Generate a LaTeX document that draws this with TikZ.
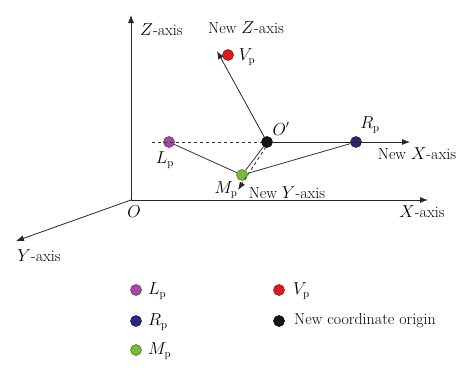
\documentclass[tikz,border=0pt]{standalone}
\usetikzlibrary{arrows.meta}
\definecolor{cL}{RGB}{170,70,170}
\definecolor{cR}{RGB}{40,40,130}
\definecolor{cM}{RGB}{120,185,60}
\definecolor{cV}{RGB}{215,30,30}
\definecolor{cO}{RGB}{20,20,20}
\begin{document}
\begin{tikzpicture}[x=1pt,y=-1pt,
  lbl/.style={font=\fontsize{16}{18}\selectfont, inner sep=0pt},
  axis/.style={-{Latex[length=8pt,width=6pt]}, line width=0.8pt, black!85},
  conn/.style={line width=0.8pt, black!80},
  dot/.style={circle, minimum size=11pt, inner sep=0pt, line width=0.6pt}]
\useasboundingbox (0,0) rectangle (474,372);
% main axes
\coordinate (O) at (131,200);
\coordinate (Zend) at (131,15);
\coordinate (Xend) at (428,200);
\coordinate (Yend) at (16,241);
\draw[axis] (O) -- (Zend);
\draw[axis] (O) -- (Xend);
\draw[axis] (O) -- (Yend);
\node[lbl, anchor=west] (zl) at (140,30) {$Z$-axis};
\node[lbl] (ol) at (134,212) {$O$};
\node[lbl] (xl) at (422,212) {$X$-axis};
\node[lbl] (yl) at (39,256) {$Y$-axis};
% points
\node[dot, draw=cO!70!black, fill=cO] (Op) at (267,142) {};
\node[dot, draw=cR!70!black, fill=cR] (R) at (356,142) {};
\node[dot, draw=cL!70!black, fill=cL] (L) at (169,142) {};
\node[dot, draw=cM!70!black, fill=cM] (M) at (242,175) {};
\node[dot, draw=cV!70!black, fill=cV] (V) at (228,55) {};
\coordinate (dstart) at (152,142);
\coordinate (NX) at (410,142);
\coordinate (NZ) at (217,51);
\coordinate (NY) at (238,190);
% connectors
\draw[conn, dashed] (dstart) -- (Op);
\draw[conn] (L) -- (M);
\draw[conn] (M) -- (R);
\draw[conn] (Op) -- (M);
\draw[axis, dashed] ([xshift=2pt]Op.center) -- (NY);
\draw[axis] (Op) -- (NX);
\draw[axis] (Op) -- (NZ);
% labels
\node[lbl] (opl) at (281,129) {$O'$};
\node[lbl] (rl) at (370,125) {$R_\mathrm{p}$};
\node[lbl] (ll) at (165,160) {$L_\mathrm{p}$};
\node[lbl] (ml) at (226,190) {$M_\mathrm{p}$};
\node[lbl] (vl) at (247,57) {$V_\mathrm{p}$};
\node[lbl] (nzl) at (246,28) {New $Z$-axis};
\node[lbl] (nxl) at (417,154) {New $X$-axis};
\node[lbl] (nyl) at (287,193) {New $Y$-axis};
% legend
\node[dot, draw=cL!70!black, fill=cL] (k1) at (136,290) {};
\node[lbl, anchor=west] (k1l) at (148,291) {$L_\mathrm{p}$};
\node[dot, draw=cR!70!black, fill=cR] (k2) at (136,321) {};
\node[lbl, anchor=west] (k2l) at (148,322) {$R_\mathrm{p}$};
\node[dot, draw=cM!70!black, fill=cM] (k3) at (136,350) {};
\node[lbl, anchor=west] (k3l) at (148,351) {$M_\mathrm{p}$};
\node[dot, draw=cV!70!black, fill=cV] (k4) at (279,290) {};
\node[lbl, anchor=west] (k4l) at (293,291) {$V_\mathrm{p}$};
\node[dot, draw=cO!70!black, fill=cO] (k5) at (279,321) {};
\node[lbl, anchor=west] (k5l) at (294,321) {New coordinate origin};
\end{tikzpicture}
\end{document}
